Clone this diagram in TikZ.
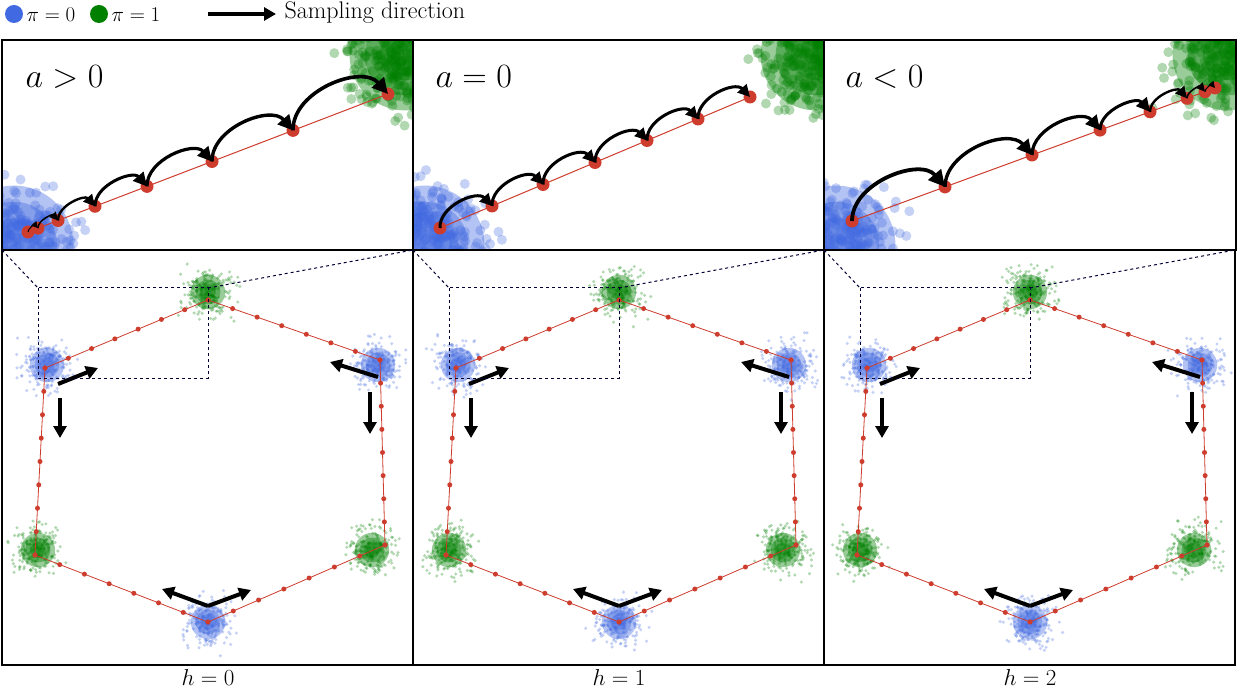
\RequirePackage{fix-cm}
\documentclass[tikz,border=0pt]{standalone}
\usepackage{fontspec}
\usetikzlibrary{calc,arrows.meta}
\definecolor{cblue}{RGB}{65,105,225}
\definecolor{cgreen}{RGB}{0,128,0}
\definecolor{cred}{RGB}{205,60,45}
\newcommand\mycloud[7]{% x y sigma color n dotsize corefactor
  \foreach \f in {0.5,0.8,1.1}{\fill[#4,opacity=0.4] (#1,#2) circle ({\f*#7*#3 pt});}
  \foreach \k in {1,...,#5}{%
    \pgfmathsetmacro\dx{#3*(rand+rand+rand)}%
    \pgfmathsetmacro\dy{#3*(rand+rand+rand)}%
    \fill[#4,opacity=0.3] ({#1+\dx},{#2+\dy}) circle (#6pt);
  }}
\tikzset{
  panel/.style={draw=black,line width=1.3pt},
  zoomrect/.style={draw=black!80!blue,dashed,line width=1pt},
  samparrow/.style={line width=4pt,-{Triangle[length=12pt,width=13pt]}},
}
\newcommand\bottompanel{%
  \begin{scope}
  \clip (2,250) rectangle (413,665);
  \mycloud{208}{292}{12}{cgreen}{210}{1.7}{1.3}
  \mycloud{47}{365}{12}{cblue}{210}{1.7}{1.3}
  \mycloud{378}{365}{12}{cblue}{210}{1.7}{1.3}
  \mycloud{38}{550}{12}{cgreen}{210}{1.7}{1.3}
  \mycloud{372}{550}{12}{cgreen}{210}{1.7}{1.3}
  \mycloud{208}{622}{12}{cblue}{210}{1.7}{1.3}
  \end{scope}
  \coordinate (T) at (208,300); \coordinate (L) at (45,368);
  \coordinate (BL) at (35,555); \coordinate (B) at (208,622);
  \coordinate (BR) at (385,545); \coordinate (R) at (380,360);
  \draw[cred,line width=0.8pt] (T)--(L)--(BL)--(B)--(BR)--(R)--cycle;
  \foreach \p/\q/\n in {T/L/7,L/BL/8,BL/B/7,B/BR/7,BR/R/8,R/T/7}{
    \foreach \i in {0,...,\n}{
      \fill[cred] ($(\p)!{\i/\n}!(\q)$) circle (2.5pt);}}
  \draw[samparrow] (58,384) -- (98,368);
  \draw[samparrow] (60,398) -- (60,438);
  \draw[samparrow] (378,377) -- (330,362);
  \draw[samparrow] (370,392) -- (370,434);
  \draw[samparrow] (208,606) -- (162,589);
  \draw[samparrow] (208,606) -- (251,590);
  \draw[panel] (2,250) rectangle (413,665);
}
\newcommand\toppanel[2]{%
  \begin{scope}
  \clip (#1,40) rectangle (#2,250);
  \mycloud{#1+12}{245}{30}{cblue}{340}{5}{1.8}
  \mycloud{#2-8}{55}{28}{cgreen}{340}{5}{1.8}
  \end{scope}
}
\begin{document}
\begin{tikzpicture}[x=1pt,y=-1pt]
\pgfmathsetseed{7}
\useasboundingbox (0,0) rectangle (1238,692);
\fill[white] (0,0) rectangle (1238,692);
% legend
\fill[cblue] (14,14) circle (9pt);
\node[anchor=west,font=\fontsize{21}{21}\selectfont] (l0) at (23,15) {$\pi=0$};
\fill[cgreen] (99,14) circle (9pt);
\node[anchor=west,font=\fontsize{21}{21}\selectfont] (l1) at (108,15) {$\pi=1$};
\coordinate (sa) at (208,14); \coordinate (sb) at (276,14);
\draw[samparrow] (sa) -- (sb);
\node[anchor=west,font=\fontsize{24}{24}\selectfont] (ls) at (281,13) {Sampling direction};
% top panels
\toppanel{2}{413}
\toppanel{413}{824}
\toppanel{824}{1236}
% col 0 path
\draw[cred,line width=1pt] (28,232) -- (388,94);
\foreach \x/\y [count=\c] in {28/232,38/228.2,58/220.5,95/206.3,147/186.4,212/161.5,293/130.4,388/94}{
  \coordinate (a\c) at (\x,\y); \fill[cred] (a\c) circle (6.5pt);}
\foreach \i/\j/\w in {1/2/1,2/3/1.5,3/4/2.4,4/5/3,5/6/3.2,6/7/3.4,7/8/3.6}{
  \draw[line width=\w pt,black,-{Triangle[length={3+3.5*\w pt},width={3+3.5*\w pt}]},bend left=70] (a\i) to (a\j);}
% col 1
\draw[cred,line width=1pt] (440,228) -- (750,97);
\foreach \x/\y [count=\c] in {440/228,492/206,543/184.5,595/162.5,647/140.5,698/119,750/97}{
  \coordinate (b\c) at (\x,\y); \fill[cred] (b\c) circle (6.5pt);}
\foreach \i/\j in {1/2,2/3,3/4,4/5,5/6,6/7}{
  \draw[line width=3pt,black,-{Triangle[length=12pt,width=12pt]},bend left=70] (b\i) to (b\j);}
% col 2
\draw[cred,line width=1pt] (852,221) -- (1215,88);
\foreach \x/\y [count=\c] in {852/221,945/186.9,1032/155,1100/130.1,1150/111.8,1187/98.3,1205/91.7,1215/88}{
  \coordinate (c\c) at (\x,\y); \fill[cred] (c\c) circle (6.5pt);}
\foreach \i/\j/\w in {1/2/3.8,2/3/3.4,3/4/3.2,4/5/3,5/6/2.4,6/7/1.6,7/8/1}{
  \draw[line width=\w pt,black,-{Triangle[length={3+3.5*\w pt},width={3+3.5*\w pt}]},bend left=70] (c\i) to (c\j);}
% labels
\foreach \x/\t in {22/{a>0},432/{a=0},842/{a<0}}{
  \node[anchor=west,font=\fontsize{34}{34}\selectfont] at (\x,77) {$\t$};}
\draw[panel] (2,40) rectangle (413,250);
\draw[panel] (413,40) rectangle (824,250);
\draw[panel] (824,40) rectangle (1236,250);
% bottom panels
\bottompanel
\begin{scope}[xshift=411pt] \bottompanel \end{scope}
\begin{scope}[xshift=822pt] \bottompanel \end{scope}
% zoom rectangles
\foreach \s in {0,411,822}{
  \begin{scope}[xshift=\s pt]
  \coordinate (z1) at (38,288); \coordinate (z2) at (208,378);
  \coordinate (z3) at (208,288);
  \draw[zoomrect] (z1) rectangle (z2);
  \draw[zoomrect] (2,250) -- (z1);
  \draw[zoomrect] (z3) -- (413,250);
  \end{scope}}
\foreach \x/\t in {208/0,619/1,1030/2}{
  \node[font=\fontsize{23}{23}\selectfont] at (\x,678) {$h=\t$};}
\end{tikzpicture}
\end{document}
